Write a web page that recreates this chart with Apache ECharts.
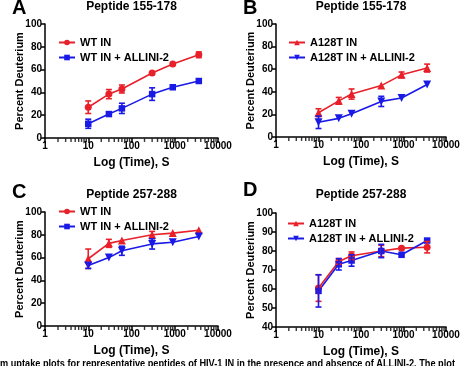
<!DOCTYPE html>
<html><head><meta charset="utf-8">
<script src="https://cdn.jsdelivr.net/npm/echarts@6/dist/echarts.min.js"></script>
<style>html,body{margin:0;padding:0;background:#fff}#c{width:474px;height:366px}</style>
</head><body><div id="c"></div>
<script>
const times = [10, 30, 60, 300, 900, 3600];
const xTickLabels = [1, 10, 100, 1000, 10000];
const minorTicks = [2,3,4,5,6,7,8,9,20,30,40,50,60,70,80,90,200,300,400,500,600,700,800,900,2000,3000,4000,5000,6000,7000,8000,9000];

const titles = ['Peptide 155-178', 'Peptide 155-178', 'Peptide 257-288', 'Peptide 257-288'];
const letters = ['A', 'B', 'C', 'D'];

const A_names = ['WT IN', 'WT IN + ALLINI-2'];
const A_red = [27, 38.5, 43, 57, 65, 73];
const A_red_err = [5.5, 4, 3.5, 0, 0, 2.5];
const A_blue = [12.5, 21, 26, 38.5, 44.5, 50];
const A_blue_err = [4, 0, 4.5, 5.5, 0, 0];

const B_names = ['A128T IN', 'A128T IN + ALLINI-2'];
const B_red = [21.5, 32, 38, 45.5, 55, 61];
const B_red_err = [3.5, 3, 4.5, 0, 2.5, 3.5];
const B_blue = [13, 16.5, 20.5, 31.5, 34.5, 46.5];
const B_blue_err = [5.5, 0, 0, 4.5, 0, 0];

const C_names = ['WT IN', 'WT IN + ALLINI-2'];
const C_red = [59, 72.5, 75, 80, 81.5, 84];
const C_red_err = [8.5, 3.5, 0, 3, 0, 0];
const C_blue = [53, 60, 66, 72, 73.5, 78.5];
const C_blue_err = [2.5, 0, 4, 4.5, 0, 0];

const D_names = ['A128T IN', 'A128T IN + ALLINI-2'];
const D_red = [60.5, 74.5, 77.5, 80, 81.5, 82];
const D_red_err = [7, 1.5, 2, 3, 0, 3];
const D_blue = [59, 73, 75, 80, 78, 85.5];
const D_blue_err = [8.5, 3, 3, 3.5, 0, 0];

const yRanges = [[0, 100, 20], [0, 100, 20], [0, 100, 20], [40, 100, 10]];

const RED = '#e8202a', BLUE = '#1a1ae6';
const FONT = 'Liberation Sans';

const panels = [
  {names: A_names, red: A_red, redErr: A_red_err, blue: A_blue, blueErr: A_blue_err, redSym: 'circle', blueSym: 'rect', blueRot: 0},
  {names: B_names, red: B_red, redErr: B_red_err, blue: B_blue, blueErr: B_blue_err, redSym: 'triangle', blueSym: 'triangle', blueRot: 180},
  {names: C_names, red: C_red, redErr: C_red_err, blue: C_blue, blueErr: C_blue_err, redSym: 'triangle', blueSym: 'triangle', blueRot: 180},
  {names: D_names, red: D_red, redErr: D_red_err, blue: D_blue, blueErr: D_blue_err, redSym: 'circle', blueSym: 'rect', blueRot: 0}
];

const gridPos = [
  {left: 45, top: 24, width: 173, height: 114},
  {left: 276, top: 24, width: 170, height: 113},
  {left: 45, top: 212, width: 173, height: 114},
  {left: 276, top: 213, width: 170, height: 114}
];
const legendPos = [
  {left: 58, top: 37}, {left: 288, top: 37}, {left: 58, top: 206}, {left: 287, top: 218}
];
const titlePos = [{top: 1}, {top: 1}, {top: 189}, {top: 189}];
const letterPos = [{left: 12, top: -2}, {left: 243, top: -2}, {left: 12, top: 182}, {left: 243, top: 180}];

function errRender(color) {
  return function (params, api) {
    const x = api.value(0), lo = api.value(1), hi = api.value(2);
    if (hi - lo <= 0) return null;
    const p1 = api.coord([x, lo]), p2 = api.coord([x, hi]);
    const w = 3;
    const st = {stroke: color, lineWidth: 1.6};
    return {type: 'group', children: [
      {type: 'line', shape: {x1: p1[0], y1: p1[1], x2: p2[0], y2: p2[1]}, style: st},
      {type: 'line', shape: {x1: p1[0]-w, y1: p1[1], x2: p1[0]+w, y2: p1[1]}, style: st},
      {type: 'line', shape: {x1: p2[0]-w, y1: p2[1], x2: p2[0]+w, y2: p2[1]}, style: st}
    ]};
  };
}

const grid = [], xAxis = [], yAxis = [], series = [], legend = [], title = [], graphic = [];
const lbl = {fontFamily: FONT, fontWeight: 'bold', color: '#000', fontSize: 10};

panels.forEach((p, i) => {
  grid.push(Object.assign({containLabel: false}, gridPos[i]));
  xAxis.push({
    type: 'log', logBase: 10, min: 1, max: 10000, gridIndex: i, position: 'bottom',
    name: 'Log (Time), S', nameLocation: 'middle', nameGap: 19, nameMoveOverlap: false,
    nameTextStyle: {fontFamily: FONT, fontWeight: 'bold', fontSize: 12, color: '#000'},
    axisLine: {lineStyle: {color: '#000', width: 1.5}},
    axisTick: {show: true, inside: false, length: 5, lineStyle: {color: '#000', width: 1.5}},
    axisLabel: Object.assign({margin: 3, formatter: v => String(Math.round(v))}, lbl),
    splitLine: {show: false}
  });
  const yr = yRanges[i];
  yAxis.push({
    type: 'value', min: yr[0], max: yr[1], interval: yr[2], gridIndex: i,
    name: 'Percent Deuterium', nameLocation: 'middle', nameGap: 20, nameRotate: 90, nameMoveOverlap: false,
    nameTextStyle: {fontFamily: FONT, fontWeight: 'bold', fontSize: 11, color: '#000'},
    axisLine: {show: true, lineStyle: {color: '#000', width: 1.5}},
    axisTick: {show: true, inside: false, length: 4, lineStyle: {color: '#000', width: 1.5}},
    axisLabel: Object.assign({margin: 3}, lbl),
    splitLine: {show: false}
  });
  // minor log ticks: thin rectangles placed on the axis through the log scale
  series.push({
    type: 'scatter', xAxisIndex: i, yAxisIndex: i, silent: true, clip: false,
    symbol: 'rect', symbolSize: [1.4, 3.5], symbolOffset: [0, 2.2],
    itemStyle: {color: '#000'},
    data: minorTicks.map(v => [v, yr[0]]), z: 5
  });
  const mk = (name, data, err, color, sym, rot, size) => {
    series.push({
      type: 'line', name: name, xAxisIndex: i, yAxisIndex: i,
      data: times.map((t, k) => [t, data[k]]),
      symbol: sym, symbolSize: size, symbolRotate: rot,
      lineStyle: {color: color, width: 1.6}, itemStyle: {color: color},
      z: 3
    });
    series.push({
      type: 'custom', xAxisIndex: i, yAxisIndex: i,
      renderItem: errRender(color), silent: true,
      data: times.map((t, k) => [t, data[k] - err[k], data[k] + err[k]]),
      z: 4
    });
  };
  mk(p.names[0], p.red, p.redErr, RED, p.redSym, 0, p.redSym === 'triangle' ? 8 : 7);
  mk(p.names[1], p.blue, p.blueErr, BLUE, p.blueSym, p.blueRot, p.blueSym === 'triangle' ? 8 : 6.5);
  legend.push(Object.assign({
    data: p.names, orient: 'vertical', itemWidth: 16, itemHeight: 7, itemGap: 4,
    textStyle: {fontFamily: FONT, fontWeight: 'bold', fontSize: 11, color: '#000'},
    padding: 0, selectedMode: false
  }, legendPos[i]));
  const g = gridPos[i];
  title.push(Object.assign({
    text: titles[i], left: g.left + g.width / 2, textAlign: 'center',
    textStyle: {fontFamily: FONT, fontWeight: 'bold', fontSize: 12, color: '#000'}, padding: 0
  }, titlePos[i]));
  graphic.push({type: 'text', left: letterPos[i].left, top: letterPos[i].top,
    style: {text: letters[i], font: 'bold 20px "Liberation Sans"', fill: '#000'}});
});

graphic.push({type: 'text', x: 0, y: 359, scaleX: 0.92,
  style: {text: 'm uptake plots for representative peptides of HIV-1 IN in the presence and absence of ALLINI-2. The plot',
    font: 'bold 10px "Liberation Sans"', fill: '#000', textVerticalAlign: 'top'}});

const chart = echarts.init(document.getElementById('c'), null, {renderer: 'canvas'});
chart.setOption({animation: false, backgroundColor: '#fff', grid, xAxis, yAxis, series, legend, title, graphic});
</script></body></html>
